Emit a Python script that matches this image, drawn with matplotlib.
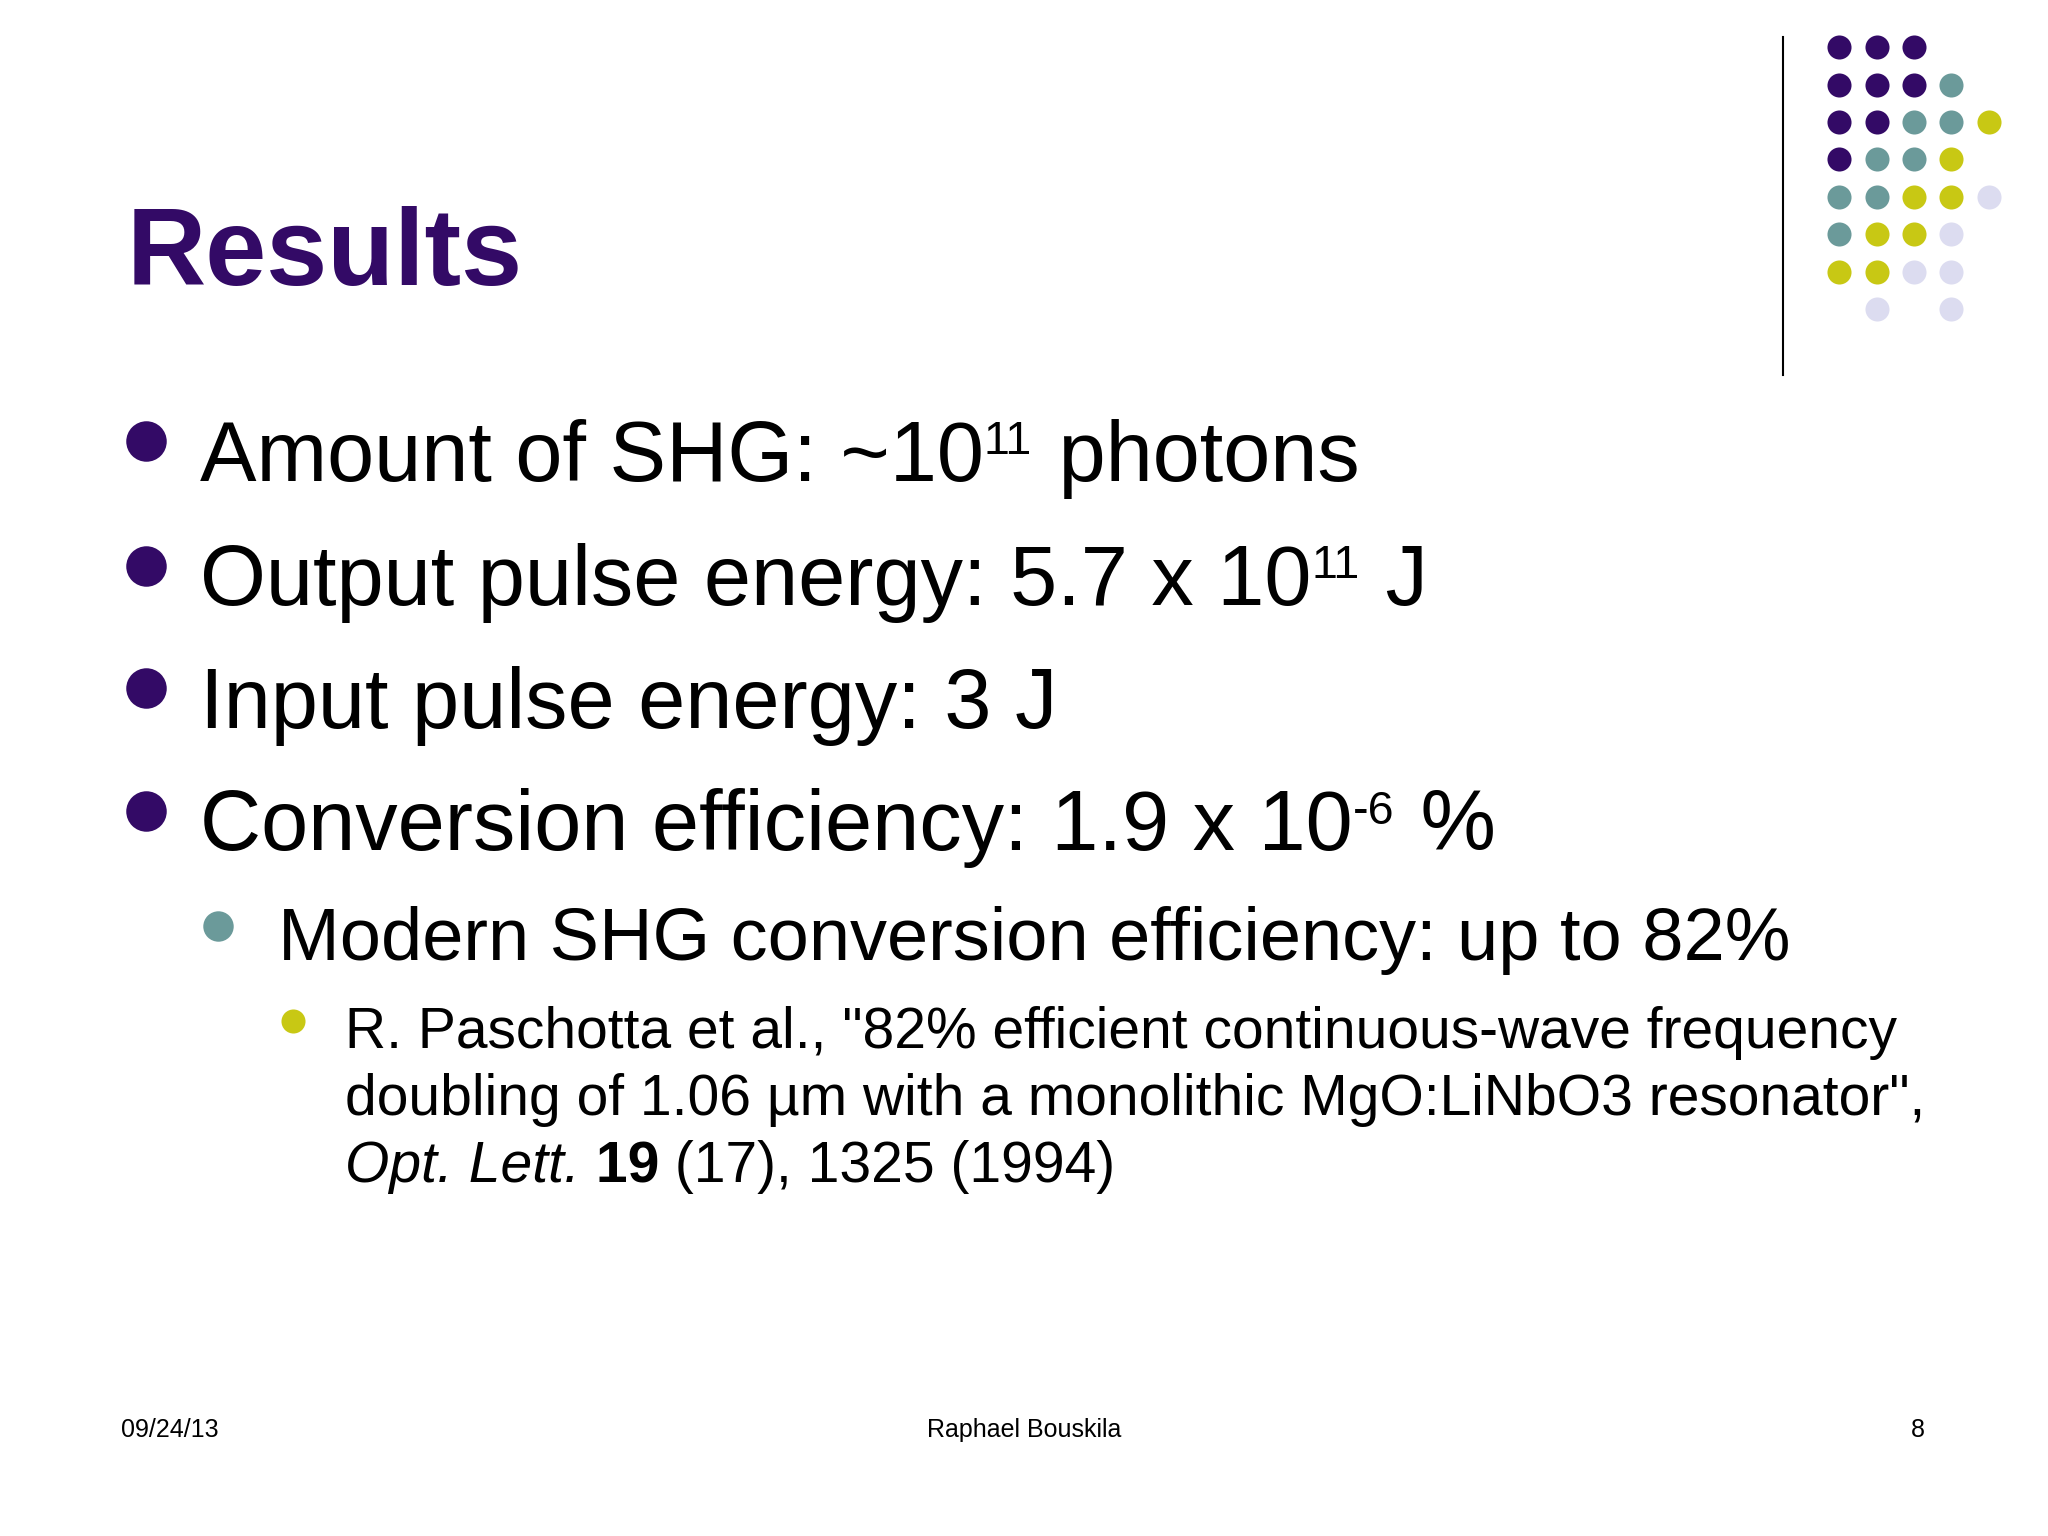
import matplotlib
matplotlib.use("Agg")
import matplotlib.pyplot as plt

plt.rcParams['font.family'] = ['Liberation Sans', 'DejaVu Sans']

PURPLE = '#330a66'
TEAL = '#6b9a9a'
YELLOW = '#c8c814'
LAV = '#dcdcf0'

title = "Results"
bullets = [[("Amount of SHG: ~10", 'n'), ("11", 's'), (" photons", 'n')],
           [("Output pulse energy: 5.7 x 10", 'n'), ("11", 's'), (" J", 'n')],
           [("Input pulse energy: 3 J", 'n')],
           [("Conversion efficiency: 1.9 x 10", 'n'), ("-6", 's'), (" %", 'n')]]
sub_bullet = "Modern SHG conversion efficiency: up to 82%"
ref_lines = [[('R. Paschotta et al., "82% efficient continuous-wave frequency', 'n')],
             [('doubling of 1.06 µm with a monolithic MgO:LiNbO3 resonator",', 'n')],
             [("Opt. Lett.", 'i'), (" 19", 'b'), (" (17), 1325 (1994)", 'n')]]
footer = ["09/24/13", "Raphael Bouskila", "8"]

grid_rows = ["PPP..", "PPPT.", "PPTTY", "PTTY.", "TTYYL", "TYYL.", "YYLL.", ".L.L."]
cmap = {'P': PURPLE, 'T': TEAL, 'Y': YELLOW, 'L': LAV}

fig = plt.figure(figsize=(20.48, 15.36), dpi=100)
ax = fig.add_axes([0, 0, 1, 1])
ax.set_xlim(0, 1568)
ax.set_ylim(1176, 0)
ax.axis('off')
renderer = fig.canvas.get_renderer()

def draw_pieces(x, y, pieces, size):
    for txt, kind in pieces:
        kw = dict(fontsize=size, va='baseline', color='black')
        yy = y
        if kind == 's':
            kw['fontsize'] = size * 0.55
            yy = y - size * 0.33
        elif kind == 'i':
            kw['fontstyle'] = 'italic'
        elif kind == 'b':
            kw['fontweight'] = 'bold'
        t = ax.text(x, yy, txt, **kw)
        bb = t.get_window_extent(renderer)
        bbd = bb.transformed(ax.transData.inverted())
        x += abs(bbd.x1 - bbd.x0)
        if kind == 's':
            x += 2

xs0, dx, ys0, dy = 1408, 28.7, 36, 28.7
for r, row in enumerate(grid_rows):
    for c, ch in enumerate(row):
        if ch in cmap:
            ax.scatter(xs0 + c * dx, ys0 + r * dy, s=300, color=cmap[ch], lw=0)
ax.plot([1365, 1365], [28, 287], color='black', lw=1.5)

ax.text(97, 218, title, fontsize=79, fontweight='bold', color=PURPLE, va='baseline')

bys = [368, 463, 557, 651]
for y, p in zip(bys, bullets):
    ax.scatter(112, y - 30, s=850, color=PURPLE, lw=0)
    draw_pieces(153, y, p, 61)

ax.scatter(167, 709, s=480, color=TEAL, lw=0)
ax.text(213, 735, sub_bullet, fontsize=53.3, va='baseline')

ax.scatter(224, 782, s=300, color=YELLOW, lw=0)
for y, p in zip([802, 854, 905], ref_lines):
    draw_pieces(264, y, p, 41)

ax.text(93, 1100, footer[0], fontsize=18, va='baseline')
ax.text(784, 1100, footer[1], fontsize=18, va='baseline', ha='center')
ax.text(1474, 1100, footer[2], fontsize=18, va='baseline', ha='right')

fig.savefig("out.png", dpi=100, facecolor='white')
